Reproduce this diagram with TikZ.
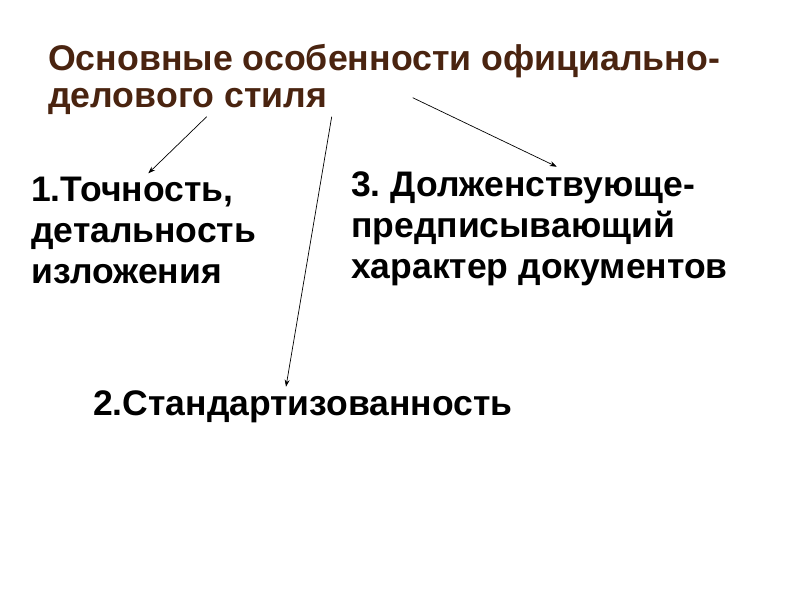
\documentclass[tikz,border=0pt]{standalone}
\usepackage{fontspec}
\setmainfont{Liberation Sans}
\usetikzlibrary{arrows.meta}
\definecolor{titlebrown}{RGB}{74,36,16}
\tikzset{
  titletext/.style={anchor=base west, inner sep=0pt, font=\bfseries\fontsize{35.7}{38}\selectfont, text=titlebrown},
  bodytext/.style={anchor=base west, inner sep=0pt, font=\frenchspacing\bfseries\fontsize{35.5}{40.7}\selectfont, text=black, align=left},
  pointer/.style={draw=black, line width=0.7pt, -{Stealth[length=7pt,width=5pt]}}
}
\begin{document}
\begin{tikzpicture}[x=1pt,y=-1pt]
\useasboundingbox (0,0) rectangle (800,600);
\fill[white] (0,0) rectangle (800,600);
\node[titletext] (title1) at (48,70) {Основные особенности официально-};
\node[titletext] (title2) at (48,107.5) {делового стиля};
\node[bodytext] (p1) at (31,283) {1.Точность,\\детальность\\изложения};
\node[bodytext] (p3) at (351,278) {3. Долженствующе-\\предписывающий\\характер документов};
\node[bodytext] (p2) at (93,415) {2.Стандартизованность};
\coordinate (s1) at (206.7,116.7);
\coordinate (e1) at (148.3,173.3);
\coordinate (s2) at (331.7,116.7);
\coordinate (e2) at (286,386.7);
\coordinate (s3) at (412.7,97.7);
\coordinate (e3) at (556.7,166.7);
\draw[pointer] (s1) -- (e1);
\draw[pointer] (s2) -- (e2);
\draw[pointer] (s3) -- (e3);
\end{tikzpicture}
\end{document}
